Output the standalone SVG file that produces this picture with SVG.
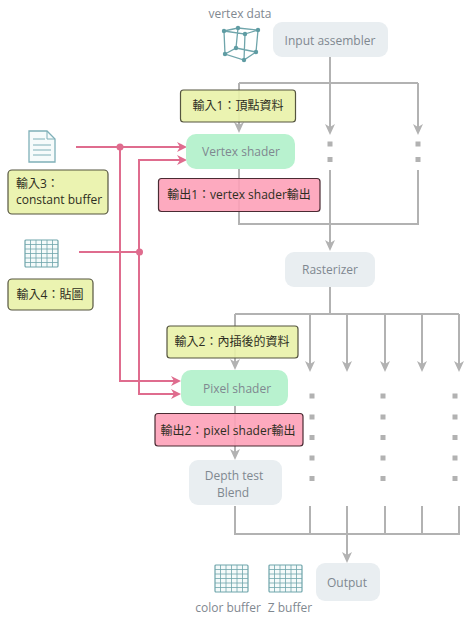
<svg xmlns="http://www.w3.org/2000/svg" width="474" height="620" viewBox="0 0 474 620">
<style>
text{font-family:"Open Sans","Noto Sans CJK TC",sans-serif;font-size:12px;text-anchor:middle}
.g{fill:#7f8890}
.d{fill:#2e2e22}
.l{text-anchor:start}
.stage{fill:#e9eef1}
.sh{fill:#b8f2cf}
.y{fill:#e9f2a8;fill-opacity:.9;stroke:#55553f;stroke-width:1.2}
.p{fill:#fda1b8;fill-opacity:.9;stroke:#4a2b33;stroke-width:1.2}
.c{fill:none;stroke:#b2b2b2;stroke-width:2}
.a{fill:none;stroke:#b2b2b2;stroke-width:2;marker-end:url(#ga)}
.r{fill:none;stroke:#df6c8e;stroke-width:2}
.ra{fill:none;stroke:#df6c8e;stroke-width:2;marker-end:url(#ra)}
.dot{fill:#b2b2b2}
.n{fill:#df6c8e}
.ic{fill:none;stroke:#6fa5ab}
</style>
<defs>
<marker id="ga" markerUnits="userSpaceOnUse" markerWidth="11" markerHeight="10" refX="8" refY="5" orient="auto" viewBox="0 0 11 10"><path d="M0 0L3 5 0 10 11 5Z" fill="#b2b2b2"/></marker>
<marker id="ra" markerUnits="userSpaceOnUse" markerWidth="10" markerHeight="10" refX="7" refY="5" orient="auto" viewBox="0 0 10 10"><path d="M0 0L3 5 0 10 10 5Z" fill="#df6c8e"/></marker>
<g id="grid"><rect width="33" height="27" rx="1" fill="#f4fafa" stroke="#6fa5ab" stroke-width="1.2"/><path d="M5.500 0V27M11 0V27M16.500 0V27M22 0V27M27.500 0V27M0 4.500H33M0 9H33M0 13.500H33M0 18H33M0 22.500H33" fill="none" stroke="#6fa5ab" stroke-width=".8"/></g>
</defs>
<g id="connectors">
<path class="c" d="M330 57V83M239 83H418"/>
<path class="a" d="M239 83V130"/>
<path class="a" d="M330 83V132"/>
<path class="a" d="M418 83V132"/>
<path class="c" d="M239 169V224H418V170M330 170V224"/>
<path class="a" d="M330 224V248"/>
<path class="c" d="M330 287V314M235 314H459"/>
<path class="a" d="M310 314V369"/>
<path class="a" d="M347 314V369"/>
<path class="a" d="M385 314V369"/>
<path class="a" d="M422 314V369"/>
<path class="a" d="M459 314V369"/>
<path class="a" d="M235 314V367"/>
<path class="a" d="M235 406V457"/>
<path class="c" d="M235 506V534H459V506M310 506V534M385 506V534M422 506V534"/>
<path class="a" d="M347 506V560"/>
<g class="dot">
<rect x="327.500" y="141.500" width="5" height="5"/><rect x="327.500" y="157" width="5" height="5"/>
<rect x="415.500" y="141.500" width="5" height="5"/><rect x="415.500" y="157" width="5" height="5"/>
<rect x="309.500" y="393.500" width="5" height="5"/><rect x="309.500" y="414.500" width="5" height="5"/><rect x="309.500" y="435" width="5" height="5"/><rect x="309.500" y="455.500" width="5" height="5"/><rect x="309.500" y="476" width="5" height="5"/>
<rect x="380.500" y="393.500" width="5" height="5"/><rect x="380.500" y="414.500" width="5" height="5"/><rect x="380.500" y="435" width="5" height="5"/><rect x="380.500" y="455.500" width="5" height="5"/><rect x="380.500" y="476" width="5" height="5"/>
<rect x="452.500" y="393.500" width="5" height="5"/><rect x="452.500" y="414.500" width="5" height="5"/><rect x="452.500" y="435" width="5" height="5"/><rect x="452.500" y="455.500" width="5" height="5"/><rect x="452.500" y="476" width="5" height="5"/>
</g>
<path class="r" d="M79 252H139"/>
<path class="ra" d="M76 147H184"/>
<path class="ra" d="M120 147V381H178"/>
<path class="ra" d="M139 394V160H184"/>
<path class="ra" d="M139 252V394H178"/>
<circle class="n" cx="120" cy="147" r="3.500"/>
<circle class="n" cx="139.500" cy="252" r="3.500"/>
</g>
<g id="vertex-data"><text x="240" y="18" class="g">vertex data</text></g>
<g id="cube-icon">
<path class="ic" stroke-width="1.300" d="M224 31L238 28 258 30 256 52 244 60 225 54ZM224 31L245 34 244 60M245 34L258 30M238 28L236 48 225 54M236 48L256 52"/>
<g fill="#5f9ca3"><circle cx="224" cy="31" r="2.200"/><circle cx="238" cy="28" r="2.200"/><circle cx="258" cy="30" r="2.200"/><circle cx="256" cy="52" r="2.200"/><circle cx="244" cy="60" r="2.200"/><circle cx="225" cy="54" r="2.200"/><circle cx="245" cy="34" r="2.200"/><circle cx="236" cy="48" r="2.200"/></g>
</g>
<g id="input-assembler"><rect class="stage" x="273" y="22" width="115" height="35" rx="9"/><text x="330" y="45" class="g">Input assembler</text></g>
<g id="input1"><rect class="y" x="180.500" y="90" width="115" height="32" rx="3"/><text x="238" y="110" class="d">輸入1：頂點資料</text></g>
<g id="vertex-shader"><rect class="sh" x="186" y="134" width="109" height="35" rx="10"/><text x="241" y="156" class="g">Vertex shader</text></g>
<g id="output1"><rect class="p" x="158.500" y="178.500" width="161.500" height="33" rx="3"/><text x="239" y="199" class="d">輸出1：vertex shader輸出</text></g>
<g id="doc-icon"><path d="M29 131H47L55 139V162H29Z" fill="#f6fbfb" stroke="#7fb0b8" stroke-width="1.300"/><path d="M47 131V139H55M33 139H45M33 145H51M33 150H51M33 155H51" fill="none" stroke="#7fb0b8"/></g>
<g id="input3"><rect class="y" x="8" y="170" width="100" height="44" rx="4"/><text x="16" y="188" class="d l">輸入3：</text><text x="16" y="204" class="d l">constant buffer</text></g>
<use id="texture-icon" href="#grid" x="25" y="240"/>
<g id="input4"><rect class="y" x="8" y="279" width="85" height="31" rx="4"/><text x="50" y="299" class="d">輸入4：貼圖</text></g>
<g id="rasterizer"><rect class="stage" x="285" y="252" width="90" height="35" rx="9"/><text x="330" y="274" class="g">Rasterizer</text></g>
<g id="input2"><rect class="y" x="167" y="326" width="131" height="32" rx="3"/><text x="232" y="346" class="d">輸入2：內插後的資料</text></g>
<g id="pixel-shader"><rect class="sh" x="181" y="370" width="107" height="36" rx="10"/><text x="237" y="393" class="g">Pixel shader</text></g>
<g id="output2"><rect class="p" x="155" y="413.500" width="148" height="32.500" rx="3"/><text x="228" y="435" class="d">輸出2：pixel shader輸出</text></g>
<g id="depth-blend"><rect class="stage" x="189" y="460" width="93" height="45" rx="9"/><text x="234" y="480" class="g">Depth test</text><text x="233" y="497" class="g">Blend</text></g>
<g id="output"><rect class="stage" x="316" y="563" width="64" height="38" rx="9"/><text x="347" y="587" class="g">Output</text></g>
<use id="color-buffer-icon" href="#grid" x="215" y="565"/>
<use id="z-buffer-icon" href="#grid" x="269" y="565"/>
<g id="color-buffer"><text x="228" y="612" class="g">color buffer</text></g>
<g id="z-buffer"><text x="290" y="612" class="g">Z buffer</text></g>
</svg>
